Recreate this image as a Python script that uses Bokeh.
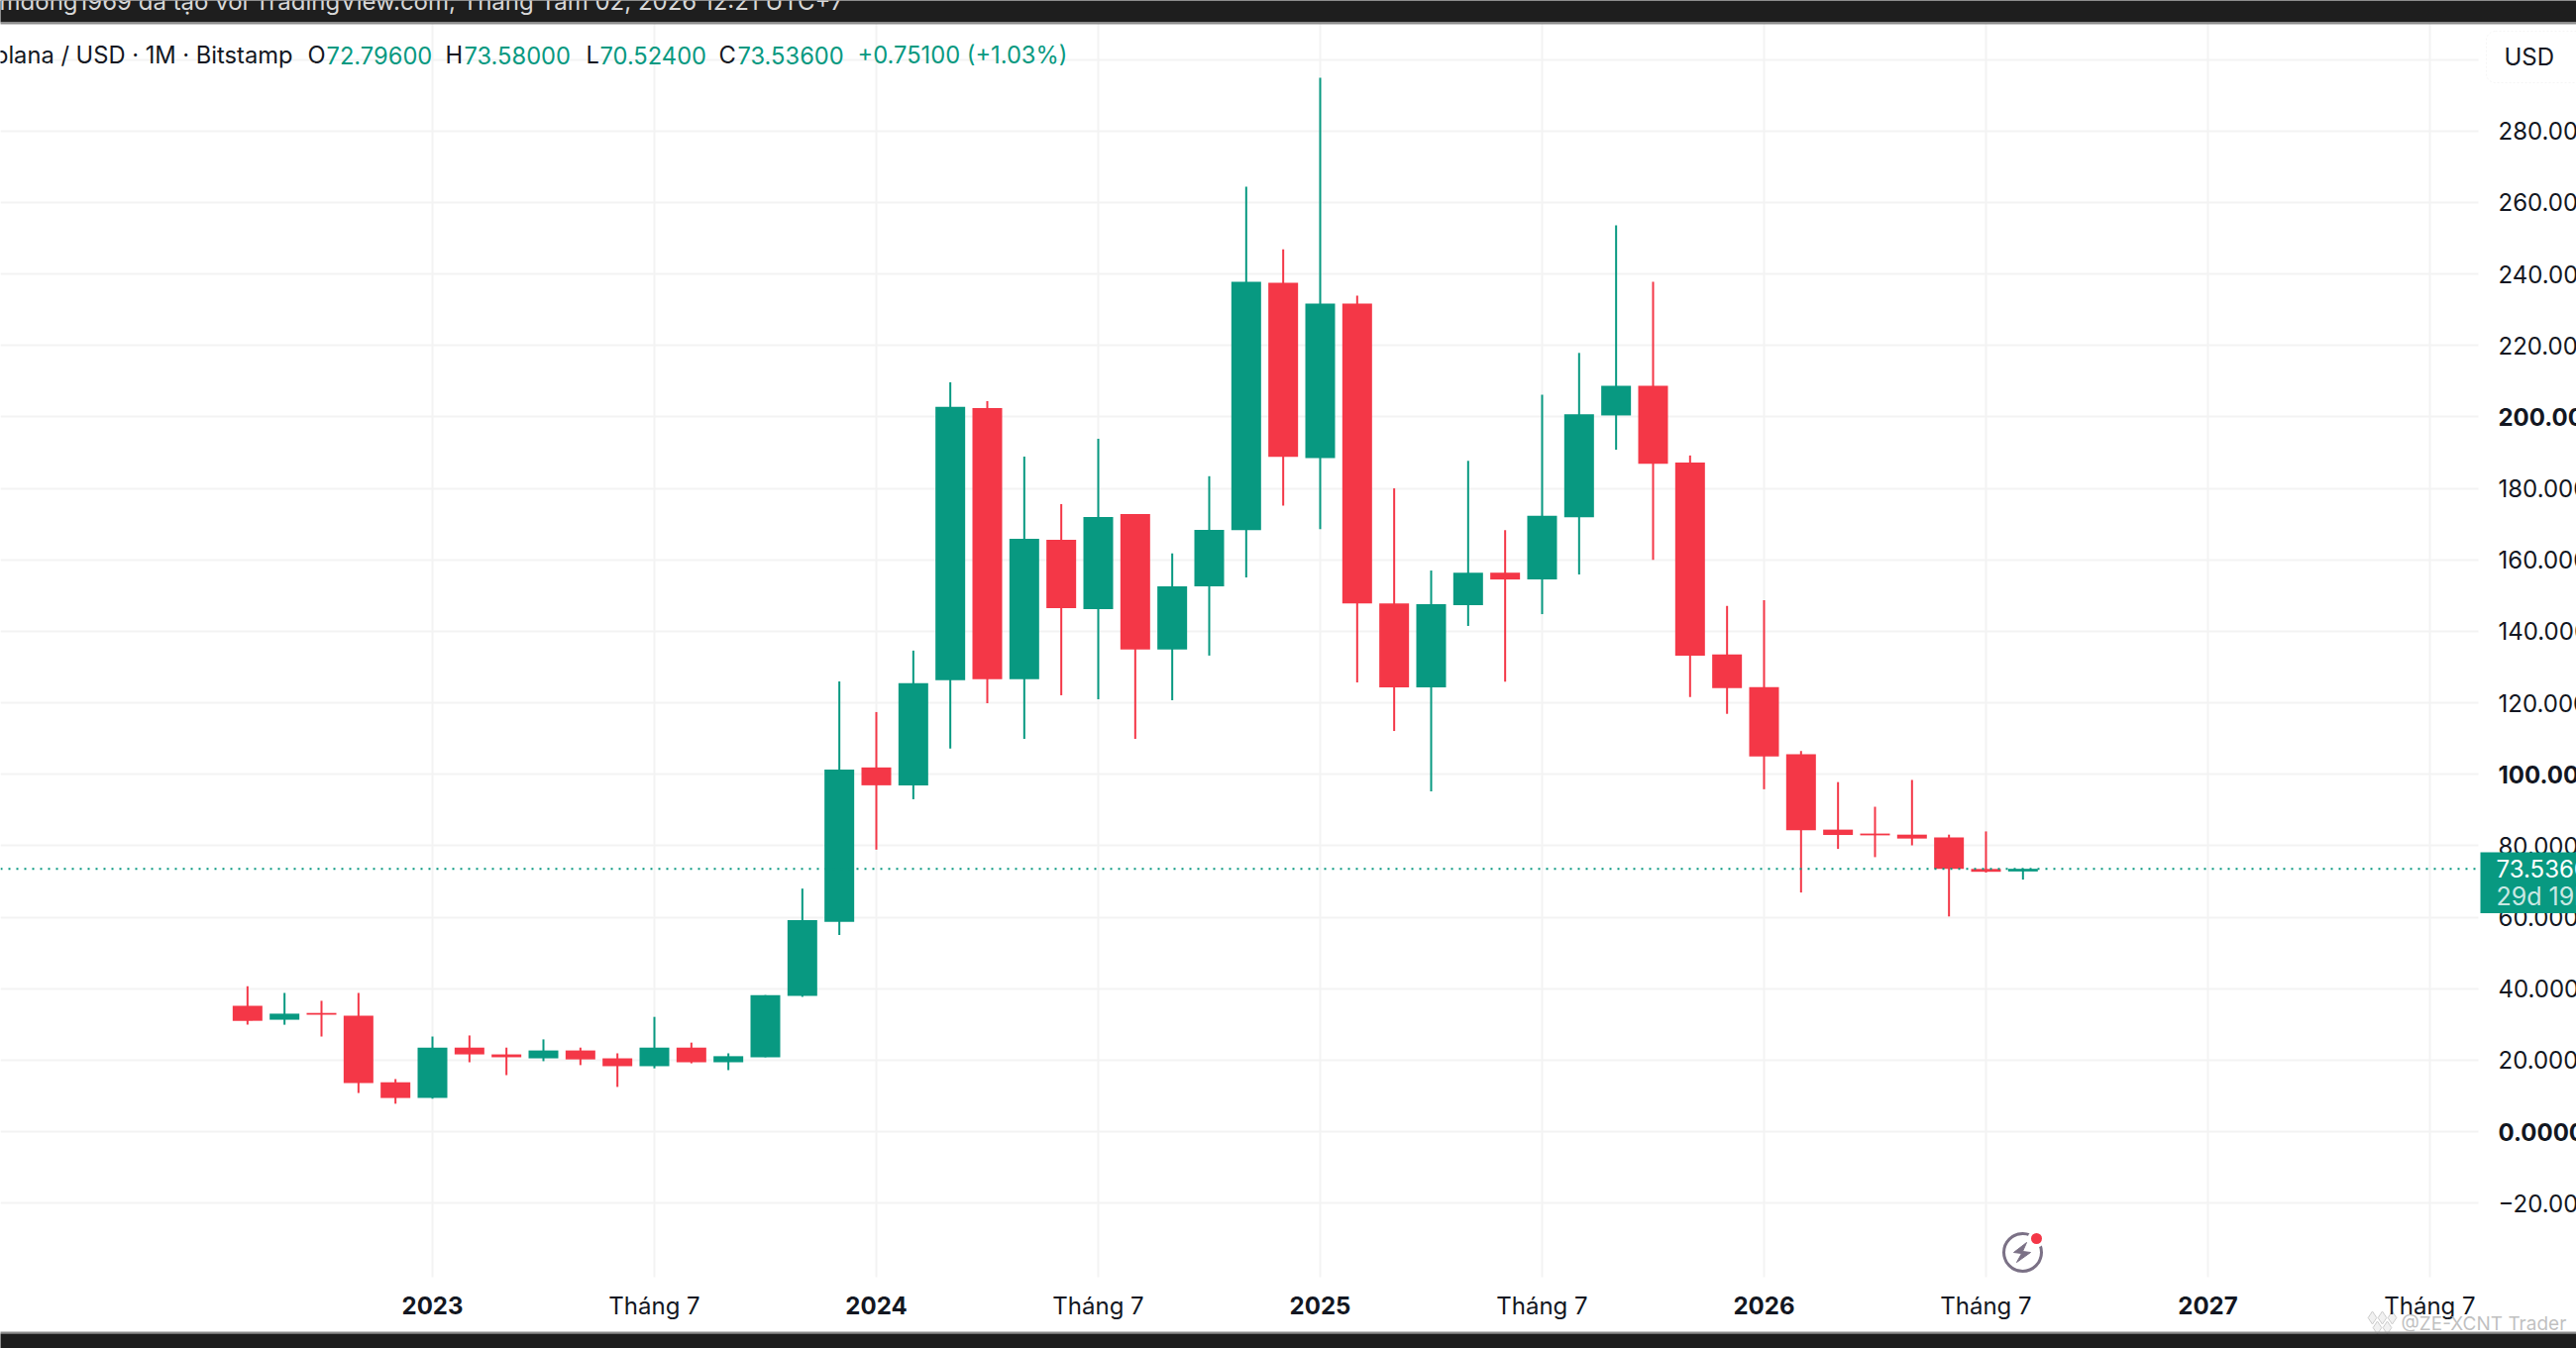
from bokeh.embed import file_html
from bokeh.resources import INLINE
from bokeh.plotting import figure
from bokeh.models import (BoxAnnotation, ColumnDataSource, FixedTicker, Grid, Label,
                          LinearAxis, Range1d, Span)

# ---- data ----
months = [f"{y}-{m:02d}" for y, m in
          [(2022, m) for m in range(8, 13)] + [(2023, m) for m in range(1, 13)] +
          [(2024, m) for m in range(1, 13)] + [(2025, m) for m in range(1, 13)] +
          [(2026, m) for m in range(1, 9)]]
opens = [35.2, 31.3, 33.2, 32.4, 13.8, 9.4, 23.5, 21.6, 20.5, 22.7, 20.5, 18.3, 23.5, 19.4, 20.8,
         38.0, 58.7, 101.9, 96.9, 126.3, 202.5, 126.6, 165.6, 146.2, 172.8, 134.9, 152.6, 168.3,
         237.5, 188.5, 231.7, 147.8, 124.3, 147.3, 156.4, 154.5, 171.9, 200.4, 208.7, 187.2, 133.5,
         124.4, 105.6, 84.5, 83.4, 83.1, 82.3, 73.5, 72.796]
highs = [40.7, 38.8, 36.6, 38.8, 14.7, 26.6, 26.9, 23.5, 25.8, 23.5, 21.9, 32.1, 24.9, 21.9, 38.2,
         68.0, 126.0, 117.4, 134.6, 209.7, 204.4, 188.9, 175.6, 193.9, 172.8, 161.8, 183.4, 264.4,
         246.9, 294.9, 233.9, 180.0, 157.0, 187.7, 168.3, 206.2, 217.9, 253.6, 237.8, 189.2, 147.1,
         148.7, 106.5, 97.8, 90.9, 98.4, 83.1, 84.0, 73.58]
lows = [29.9, 29.9, 26.6, 10.8, 7.8, 9.2, 19.4, 15.8, 19.7, 18.6, 12.5, 17.7, 19.1, 17.2, 20.8,
        37.7, 55.0, 78.9, 93.0, 107.2, 119.9, 109.9, 122.1, 121.0, 109.9, 120.7, 133.2, 155.1,
        175.2, 168.6, 125.7, 112.1, 95.2, 141.5, 125.9, 144.8, 155.9, 190.8, 160.0, 121.6, 116.9,
        95.8, 66.9, 79.1, 76.8, 80.1, 60.2, 72.5, 70.524]
closes = [31.0, 33.0, 32.7, 13.6, 9.4, 23.5, 21.6, 20.8, 22.7, 20.2, 18.3, 23.5, 19.4, 21.1, 38.2,
          59.2, 101.3, 96.9, 125.5, 202.8, 126.6, 165.9, 146.5, 172.0, 134.9, 152.6, 168.4, 237.8,
          188.8, 231.7, 147.8, 124.3, 147.6, 156.4, 154.5, 172.3, 200.7, 208.7, 186.9, 133.2, 124.1,
          105.0, 84.3, 83.0, 82.9, 82.0, 73.5, 72.7, 73.536]
last_price = 73.536
price_ticks = [280, 260, 240, 220, 180, 160, 140, 120, 80, 60, 40, 20, -20]
price_labels = ["280.000", "260.000", "240.000", "220.000", "180.000", "160.000", "140.000",
                "120.000", "80.000", "60.000", "40.000", "20.000", "\u221220.000"]
bold_price_ticks = [200, 100, 0]
bold_price_labels = ["200.000", "100.000", "0.0000"]
grid_price_ticks = list(range(-20, 320, 20))
year_ticks = [0, 12, 24, 36, 48]
year_labels = ["2023", "2024", "2025", "2026", "2027"]
mid_ticks = [6, 18, 30, 42, 54]
mid_labels = ["Tháng 7"] * 5

# ---- colours ----
GREEN = "#089981"
RED = "#f43747"
INK = "#131722"
GRID = "#f3f3f3"
BAR = "#1e1e1e"

# ---- pixel <-> data helpers (page is 2600x1361) ----
PX_PER_MONTH = 37.333
PX_PER_USD = 3.608
def dx(px):
    return (px - 436) / PX_PER_MONTH
def dy(py):
    return (1142 - py) / PX_PER_USD

p = figure(width=2600, height=1361, output_backend="svg", toolbar_location=None,
           x_range=Range1d(dx(0), dx(2600)), y_range=Range1d(dy(1361), dy(0)),
           x_axis_type=None, y_axis_type=None, min_border=0,
           background_fill_color="white", border_fill_color="white", outline_line_color=None)
p.styles = {"position": "absolute", "left": "0px", "top": "0px"}
p.grid.visible = False

# grids
p.add_layout(Grid(dimension=1, ticker=FixedTicker(ticks=grid_price_ticks),
                  grid_line_color=GRID, grid_line_width=2, cross_bounds=(dx(0), dx(2501))))
p.add_layout(Grid(dimension=0, ticker=FixedTicker(ticks=year_ticks + mid_ticks),
                  grid_line_color=GRID, grid_line_width=2, cross_bounds=(dy(1289), dy(23))))

# candles
xs = [(int(s[:4]) - 2023) * 12 + int(s[5:]) - 1 for s in months]
src = ColumnDataSource(dict(
    x=xs, high=highs, low=lows,
    top=[max(o, c) for o, c in zip(opens, closes)],
    bottom=[min(o, c) for o, c in zip(opens, closes)],
    color=[GREEN if c >= o else RED for o, c in zip(opens, closes)]))
p.segment("x", "high", "x", "low", source=src, line_color="color", line_width=2)
p.vbar(x="x", top="top", bottom="bottom", width=30 / PX_PER_MONTH, source=src,
       fill_color="color", line_color=None)

# axes
FONT = "Inter"
def price_axis(ticks, labels, style):
    a = LinearAxis(fixed_location=dx(2501), ticker=FixedTicker(ticks=ticks),
                   major_label_overrides=dict(zip(ticks, labels)),
                   major_label_text_font=FONT, major_label_text_font_size="24px",
                   major_label_text_font_style=style, major_label_text_color=INK,
                   major_label_standoff=14, major_tick_line_color=None,
                   minor_tick_line_color=None, axis_line_color=None)
    p.add_layout(a, "right")
def time_axis(ticks, labels, style, standoff):
    a = LinearAxis(fixed_location=dy(1289), ticker=FixedTicker(ticks=ticks),
                   major_label_overrides=dict(zip(ticks, labels)),
                   major_label_text_font=FONT, major_label_text_font_size="24px",
                   major_label_text_font_style=style, major_label_text_color=INK,
                   major_label_standoff=standoff, major_tick_line_color=None,
                   minor_tick_line_color=None, axis_line_color=None)
    p.add_layout(a, "below")
price_axis(price_ticks, price_labels, "normal")
price_axis(bold_price_ticks, bold_price_labels, "bold")
time_axis(year_ticks, year_labels, "bold", 13)
time_axis(mid_ticks, mid_labels, "normal", 8)

# last price line and tag
p.add_layout(Span(location=last_price, dimension="width", line_color=GREEN, line_width=2,
                  line_dash="2 6"))
p.add_layout(BoxAnnotation(left=dx(2503), right=dx(2620), top=dy(860), bottom=dy(921.5),
                           fill_color=GREEN, fill_alpha=1, line_color=None))

# frame bars
def band(y0, y1, color):
    p.add_layout(BoxAnnotation(left=dx(-10), right=dx(2620), top=dy(y0), bottom=dy(y1),
                               fill_color=color, fill_alpha=1, line_color=None))
band(-10, 22, BAR)
band(22, 24, "#8c8c8c")
band(1344, 1346, "#8c8c8c")
band(1346, 1375, BAR)

# USD button
p.add_layout(BoxAnnotation(left=dx(2509), right=dx(2640), top=dy(31), bottom=dy(83),
                           fill_color="white", fill_alpha=1, line_color="#dedede", line_width=1,
                           line_dash="2 2", border_radius=9))

def text(px, py, s, color=INK, size=24, align="left", style="normal", alpha=1.0, font=FONT):
    p.add_layout(Label(x=dx(px), y=dy(py), text=s, text_color=color, text_align=align,
                       text_baseline="middle", text_font=font, text_font_style=style,
                       text_font_size=f"{size}px", text_alpha=alpha))

text(2527, 57, "USD")
text(2519, 876, "73.5360", color="white")
text(2519, 904, "29d 19h", color="white", size=25, alpha=0.8)

# header
text(851, 1, "mdong1969 đã tạo với TradingView.com, Tháng Tám 02, 2026 12:21 UTC+7",
     color="#d8d8d8", align="right", size=24)
text(295, 55, "Solana / USD · 1M · Bitstamp", align="right", size=23.7)
for px, s, c in [(310, "O", INK), (329, "72.79600", GREEN), (449, "H", INK), (468, "73.58000", GREEN),
                 (591, "L", INK), (605, "70.52400", GREEN), (725, "C", INK), (744, "73.53600", GREEN),
                 (865, "+0.75100 (+1.03%)", GREEN)]:
    text(px, 55, s, color=c, size=23.7)

# bolt icon
ICON = "#7b7186"
p.scatter([dx(2041)], [dy(1264)], size=38, marker="circle", fill_color=None, line_color=ICON, line_width=3)
p.scatter([dx(2055)], [dy(1250)], size=18, marker="circle", fill_color="white", line_color=None)
p.scatter([dx(2055)], [dy(1250)], size=11, marker="circle", fill_color=RED, line_color=None)
bolt_x = [2045, 2032, 2040, 2035, 2049, 2041]
bolt_y = [1254, 1264, 1265, 1274, 1264, 1263]
p.patch([dx(v) for v in bolt_x], [dy(v) for v in bolt_y], fill_color=ICON, line_color=ICON)

# watermark
p.scatter([dx(2394), dx(2404), dx(2414), dx(2399), dx(2409)],
          [dy(1330), dy(1330), dy(1330), dy(1340), dy(1340)], size=13, marker="diamond",
          fill_color="#eeeeee", line_color="#cccccc", fill_alpha=0.8)
text(2423, 1336, "@ZE-XCNT Trader", color="#b5b5b5", size=19, alpha=0.85)

open("out.html", "w").write(file_html(p, INLINE))
